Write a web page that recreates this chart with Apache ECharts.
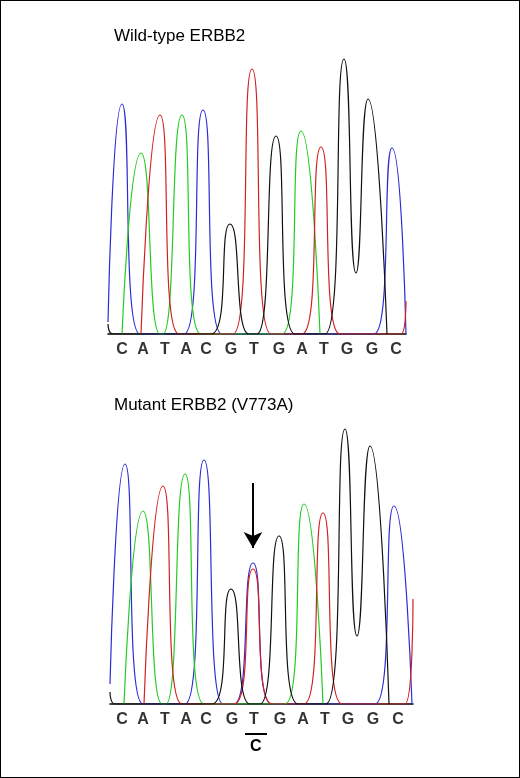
<!DOCTYPE html>
<html><head><meta charset="utf-8">
<script src="https://cdn.jsdelivr.net/npm/echarts@6/dist/echarts.min.js"></script>
<style>html,body{margin:0;padding:0;background:#fff}#c{width:520px;height:778px;box-sizing:border-box;border:1px solid #000}</style>
</head><body><div id="c"></div>
<script>
const bases = ['C','A','T','A','C','G','T','G','A','T','G','G','C'];
const basePosTop = [121,142,164,185,205,230,253,278,301,323,346,371,395];
const basePosBot = [121,142,164,185,205,231,253,279,302,324,347,372,397];
// traces: [scan position, signal]
const topBlue  = [[107,12],[121,230],[139,0],[183,0],[202,224],[221,0],[373,0],[391,186],[405,0]];
const topGreen = [[121,0],[140,181],[159,0],[162,0],[181,219],[200,0],[281,0],[300,203],[319,0]];
const topRed   = [[140,0],[159,219],[178,0],[232,0],[251,265],[270,0],[301,0],[320,187],[339,0],[400,0],[405,33]];
const topBlack = [[107,10],[112,0],[210,0],[229,110],[248,0],[256,0],[275,198],[294,0],[324,0],[343,275],[355,61],[367,235],[386,0]];
const botBlue  = [[109,20],[124,240],[142,0],[184,0],[203,244],[222,0],[233,0],[252,141],[271,0],[374,0],[393,198],[411,0]];
const botGreen = [[123,0],[142,193],[161,0],[165,0],[184,230],[203,0],[284,0],[303,200],[322,0]];
const botRed   = [[143,0],[162,218],[181,0],[233,0],[252,135],[271,0],[303,0],[322,191],[341,0],[404,0],[412,105]];
const botBlack = [[109,12],[114,0],[211,0],[230,115],[249,0],[259,0],[278,168],[297,0],[325,0],[344,275],[356,68],[369,258],[388,0]];

const chart = echarts.init(document.getElementById('c'));
function tr(data,color,gi){return {type:'line',data,xAxisIndex:gi,yAxisIndex:gi,smooth:0.6,symbol:'none',lineStyle:{color,width:1.2},z:3};}
function lab(pos,gi){return {type:'scatter',xAxisIndex:gi,yAxisIndex:gi,symbolSize:0,data:pos.map((x,i)=>[x,0,bases[i]]),
  label:{show:true,position:'bottom',distance:8,formatter:p=>p.data[2],color:'#000',fontSize:16,fontFamily:'Liberation Sans, Arial',fontWeight:'bold'},silent:true};}
const ax = (gi,min,max)=>({type:'value',gridIndex:gi,position:'bottom',min,max,axisLine:{show:true,onZero:false,lineStyle:{color:'#000',width:1.5}},axisTick:{show:false},axisLabel:{show:false},splitLine:{show:false}});
const ya = gi=>({type:'value',gridIndex:gi,min:0,max:283,show:false});
const bl = tr(botBlue,'#2b2bd6',1);
bl.markLine={silent:true,symbol:['none','arrow'],symbolSize:[14,16],lineStyle:{color:'#000',width:2,type:'solid'},label:{show:false},
  data:[[{coord:[252,221]},{coord:[252,156]}]]};
chart.setOption({
  animation:false,
  grid:[{left:107,width:298,top:50,height:283},{left:109,width:303,top:420,height:283}],
  xAxis:[ax(0,107,405),ax(1,109,412)],
  yAxis:[ya(0),ya(1)],
  title:[{text:'Wild-type ERBB2',left:108,top:22,textStyle:{fontSize:17,fontWeight:'normal',color:'#000',fontFamily:'Liberation Sans, Arial'}},
         {text:'Mutant ERBB2 (V773A)',left:108,top:391,textStyle:{fontSize:17,fontWeight:'normal',color:'#000',fontFamily:'Liberation Sans, Arial'}}],
  series:[tr(topBlue,'#2b2bd6',0),tr(topGreen,'#22cc22',0),tr(topRed,'#d42020',0),tr(topBlack,'#111',0),
          bl,tr(botGreen,'#22cc22',1),tr(botRed,'#d42020',1),tr(botBlack,'#111',1),
          lab(basePosTop,0),lab(basePosBot,1)],
  graphic:[{type:'line',shape:{x1:244,y1:733,x2:266,y2:733},style:{stroke:'#000',lineWidth:2}},
           {type:'text',left:249,top:738,style:{text:'C',font:'bold 16px Liberation Sans, Arial',fill:'#000'}}]
});
</script></body></html>
